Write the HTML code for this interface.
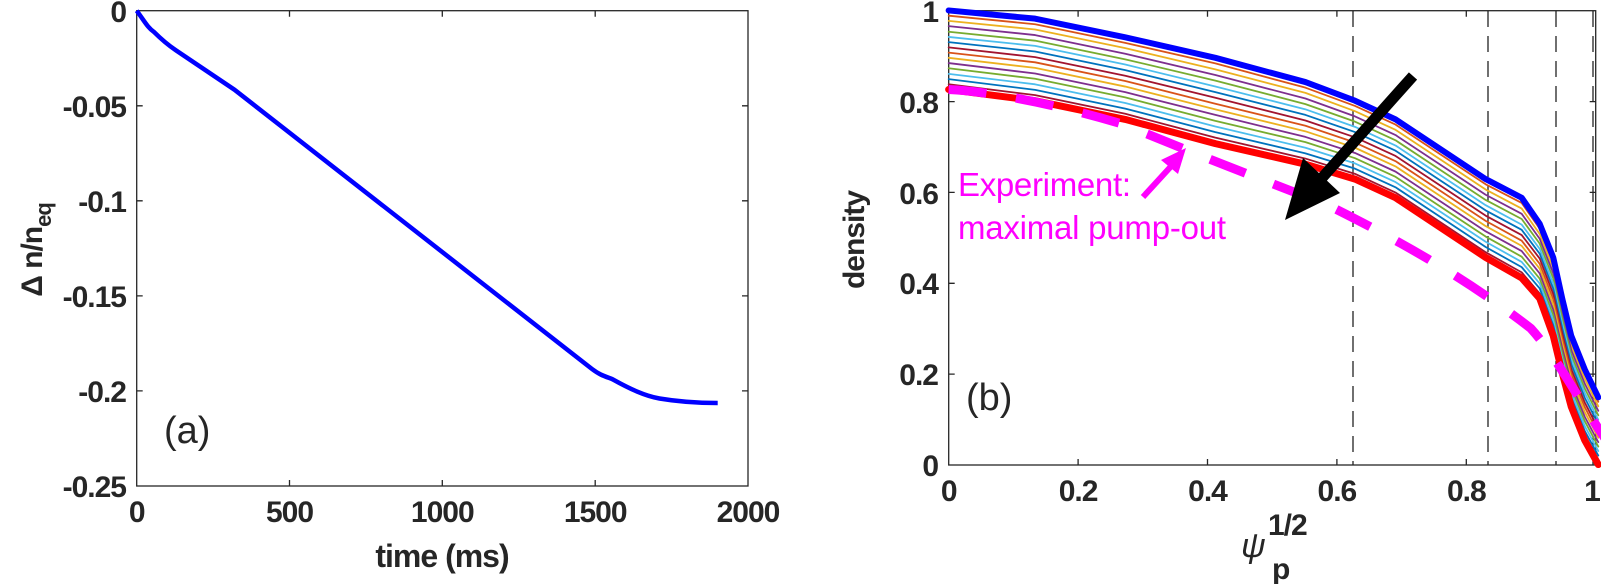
<!DOCTYPE html>
<html><head><meta charset="utf-8"><style>
body{margin:0;background:#fff}
svg{display:block}
text{font-family:"Liberation Sans",Arial,sans-serif;fill:#262626}
.t{font-weight:bold;font-size:30px;letter-spacing:-1px}
</style></head><body>
<svg width="1601" height="584" viewBox="0 0 1601 584" xmlns="http://www.w3.org/2000/svg">
<!-- Left plot -->
<g stroke="#262626" stroke-width="1.3" fill="none">
<rect x="136.7" y="10.7" width="611.3" height="475.3"/>
<path d="M289.5 486v-6M442.3 486v-6M595.2 486v-6M289.5 10.7v6M442.3 10.7v6M595.2 10.7v6
M136.7 105.8h6M136.7 200.8h6M136.7 295.9h6M136.7 390.9h6M748 105.8h-6M748 200.8h-6M748 295.9h-6M748 390.9h-6"/>
</g>
<g class="t" text-anchor="middle">
<text x="136.7" y="522">0</text><text x="289.5" y="522">500</text><text x="442.3" y="522">1000</text><text x="595.2" y="522">1500</text><text x="748" y="522">2000</text>
<text x="442" y="567" font-size="32">time (ms)</text>
</g>
<g class="t" text-anchor="end">
<text x="126" y="22">0</text><text x="126" y="117">-0.05</text><text x="126" y="212">-0.1</text><text x="126" y="307">-0.15</text><text x="126" y="402">-0.2</text><text x="126" y="497">-0.25</text>
</g>
<text class="t" font-size="32" transform="translate(42,250) rotate(-90)" text-anchor="middle">Δ n/n<tspan font-size="22" dy="9">eq</tspan></text>
<path d="M136.7 10.7 C145 22 148 28 153.7 31.7 C162 40 168 45 176 50.4 L234.3 89.6 L592 369 C600 375 604 376 612 379 C630 389 645 396 659.5 398.5 C680 402 700 403 717.7 403" stroke="#0000ff" stroke-width="4.5" fill="none"/>
<text x="164" y="443" font-size="38">(a)</text>

<!-- Right plot -->
<g stroke="#262626" stroke-width="1.3" fill="none">
<rect x="948.7" y="10.7" width="647" height="454.3"/>
<path d="M1078.1 465v-6M1207.5 465v-6M1336.9 465v-6M1466.3 465v-6M1078.1 10.7v6M1207.5 10.7v6M1336.9 10.7v6M1466.3 10.7v6
M948.7 374.1h6M948.7 283.3h6M948.7 192.4h6M948.7 101.6h6M1595.7 374.1h-6M1595.7 283.3h-6M1595.7 192.4h-6M1595.7 101.6h-6"/>
</g>
<g stroke="#222" stroke-width="1.3" stroke-dasharray="16,9">
<line x1="1353" y1="11" x2="1353" y2="465"/><line x1="1488" y1="11" x2="1488" y2="465"/><line x1="1556" y1="11" x2="1556" y2="465"/><line x1="1593" y1="11" x2="1593" y2="465"/>
</g>
<g class="t" text-anchor="middle">
<text x="948.7" y="501">0</text><text x="1078.1" y="501">0.2</text><text x="1207.5" y="501">0.4</text><text x="1336.9" y="501">0.6</text><text x="1466.3" y="501">0.8</text><text x="1592" y="501">1</text>
</g>
<g class="t" text-anchor="end">
<text x="938" y="476">0</text><text x="938" y="385">0.2</text><text x="938" y="294">0.4</text><text x="938" y="204">0.6</text><text x="938" y="113">0.8</text><text x="938" y="22">1</text>
</g>
<text class="t" font-size="32" transform="translate(864,240) rotate(-90)" text-anchor="middle">density</text>
<text x="1241" y="557" font-family="Liberation Serif,serif" font-style="italic" font-size="34">ψ</text>
<text x="1268" y="535" class="t" font-size="26">1/2</text>
<text x="1272" y="579" class="t" font-size="26">p</text>
<g transform="translate(900,0) scale(0.4505,0.3731)" fill="none" stroke-linejoin="round" stroke-linecap="round">
<g stroke-width="1.8" vector-effect="non-scaling-stroke">
<polyline vector-effect="non-scaling-stroke" stroke="#D95319" stroke-width="1.8" points="108,42 300,65 500,115 700,170 900,235 1010,284 1100,334 1200,414 1300,494 1380,544 1420,613 1450,704 1470,813 1490,913 1520,1003 1550,1077"/>
<polyline vector-effect="non-scaling-stroke" stroke="#EDB120" stroke-width="1.8" points="108,56 300,79 500,129 700,186 900,249 1010,298 1100,348 1200,428 1300,508 1380,559 1420,627 1450,718 1470,827 1490,925 1520,1015 1550,1089"/>
<polyline vector-effect="non-scaling-stroke" stroke="#7E2F8E" stroke-width="1.8" points="108,70 300,94 500,144 700,201 900,264 1010,312 1100,362 1200,442 1300,522 1380,573 1420,640 1450,732 1470,840 1490,938 1520,1028 1550,1101"/>
<polyline vector-effect="non-scaling-stroke" stroke="#77AC30" stroke-width="1.8" points="108,85 300,109 500,159 700,216 900,279 1010,326 1100,376 1200,456 1300,536 1380,587 1420,653 1450,746 1470,853 1490,951 1520,1041 1550,1113"/>
<polyline vector-effect="non-scaling-stroke" stroke="#4DBEEE" stroke-width="1.8" points="108,99 300,123 500,173 700,232 900,293 1010,340 1100,390 1200,470 1300,550 1380,602 1420,667 1450,760 1470,867 1490,963 1520,1053 1550,1125"/>
<polyline vector-effect="non-scaling-stroke" stroke="#0072BD" stroke-width="1.8" points="108,113 300,138 500,188 700,247 900,308 1010,354 1100,404 1200,484 1300,564 1380,616 1420,680 1450,774 1470,880 1490,976 1520,1066 1550,1137"/>
<polyline vector-effect="non-scaling-stroke" stroke="#A2142F" stroke-width="1.8" points="108,127 300,153 500,203 700,262 900,323 1010,368 1100,418 1200,498 1300,578 1380,630 1420,693 1450,788 1470,893 1490,989 1520,1079 1550,1149"/>
<polyline vector-effect="non-scaling-stroke" stroke="#D95319" stroke-width="1.8" points="108,141 300,167 500,217 700,278 900,337 1010,382 1100,432 1200,512 1300,592 1380,645 1420,707 1450,802 1470,907 1490,1001 1520,1091 1550,1161"/>
<polyline vector-effect="non-scaling-stroke" stroke="#EDB120" stroke-width="1.8" points="108,155 300,182 500,232 700,293 900,352 1010,396 1100,446 1200,526 1300,606 1380,659 1420,720 1450,816 1470,920 1490,1014 1520,1104 1550,1173"/>
<polyline vector-effect="non-scaling-stroke" stroke="#7E2F8E" stroke-width="1.8" points="108,169 300,197 500,247 700,308 900,367 1010,410 1100,460 1200,540 1300,620 1380,673 1420,733 1450,830 1470,933 1490,1027 1520,1117 1550,1185"/>
<polyline vector-effect="non-scaling-stroke" stroke="#77AC30" stroke-width="1.8" points="108,183 300,211 500,261 700,324 900,381 1010,424 1100,474 1200,554 1300,634 1380,688 1420,747 1450,844 1470,947 1490,1039 1520,1129 1550,1197"/>
<polyline vector-effect="non-scaling-stroke" stroke="#4DBEEE" stroke-width="1.8" points="108,198 300,226 500,276 700,339 900,396 1010,438 1100,488 1200,568 1300,648 1380,702 1420,760 1450,858 1470,960 1490,1052 1520,1142 1550,1209"/>
<polyline vector-effect="non-scaling-stroke" stroke="#0072BD" stroke-width="1.8" points="108,212 300,241 500,291 700,354 900,411 1010,452 1100,502 1200,582 1300,662 1380,716 1420,773 1450,872 1470,973 1490,1065 1520,1155 1550,1221"/>
<polyline vector-effect="non-scaling-stroke" stroke="#A2142F" stroke-width="1.8" points="108,226 300,255 500,305 700,369 900,425 1010,466 1100,516 1200,596 1300,676 1380,730 1420,787 1450,886 1470,987 1490,1077 1520,1167 1550,1233"/>
</g>
<polyline vector-effect="non-scaling-stroke" stroke="#ff0000" stroke-width="7" points="108,240 300,270 500,320 700,385 900,440 1010,480 1100,530 1200,610 1300,690 1380,745 1420,800 1450,900 1470,1000 1490,1090 1520,1180 1550,1245"/>
<polyline vector-effect="non-scaling-stroke" stroke="#0000ff" stroke-width="6" points="108,28 300,50 500,100 700,155 900,220 1010,270 1100,320 1200,400 1300,480 1380,530 1420,600 1450,690 1470,800 1490,900 1520,990 1550,1065"/>
<path d="M108 240 C200 245 350 280 500 335 C650 410 800 480 950 550 C1100 640 1250 740 1400 880 C1460 960 1500 1060 1565 1175" stroke="#ff00ff" stroke-width="9" stroke-linecap="butt" stroke-dasharray="38,30" vector-effect="non-scaling-stroke"/>
</g>
<text x="958" y="196" font-size="33" textLength="173" style="fill:#ff00ff">Experiment:</text>
<text x="958" y="239" font-size="33" textLength="268" style="fill:#ff00ff">maximal pump-out</text>
<line x1="1143" y1="197" x2="1175" y2="162" stroke="#ff00ff" stroke-width="6"/>
<polygon points="1186,148 1161,160 1178,174" fill="#ff00ff"/>
<line x1="1413" y1="76" x2="1313" y2="188" stroke="#000" stroke-width="11"/>
<polygon points="1285,220 1303,158 1340,193" fill="#000"/>
<text x="966" y="410" font-size="38">(b)</text>
</svg>
</body></html>
